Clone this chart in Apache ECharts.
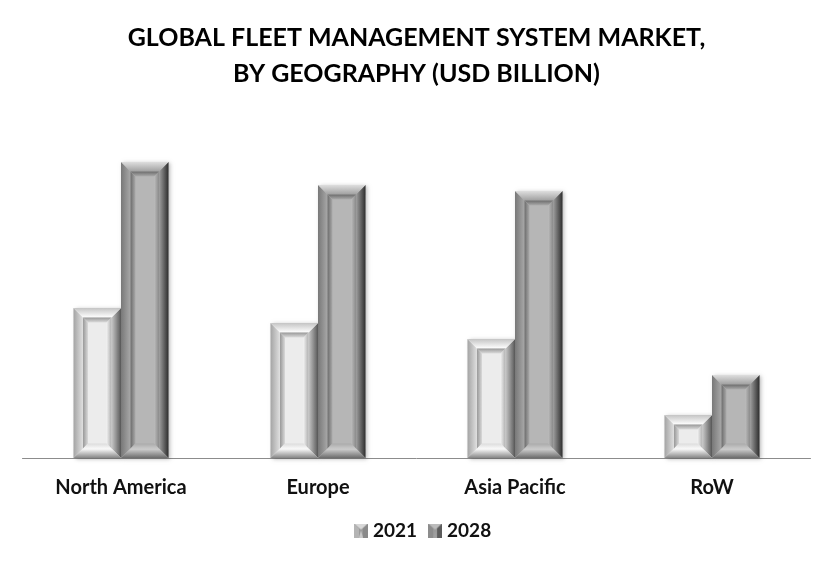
<!DOCTYPE html>
<html>
<head>
<meta charset="utf-8">
<script src="https://cdn.jsdelivr.net/npm/echarts@6/dist/echarts.min.js"></script>
<style>
html, body { margin: 0; padding: 0; background: #fff; }
#chart { width: 836px; height: 565px; }
</style>
</head>
<body>
<div id="chart"></div>
<script>
'use strict';

var categories = ['North America', 'Europe', 'Asia Pacific', 'RoW'];
var values2021 = [15.0, 13.5, 11.9, 4.3];
var values2028 = [29.6, 27.3, 26.7, 8.3];

var lightPanel = {
    outerTop: ['#c4c4c4', '#ffffff'], outerLeft: ['#a4a4a4', '#e0e0e0'], outerRight: ['#c8c8c8', '#5a5a5a'], outerBottom: ['#ffffff', '#858585'],
    innerTop: ['#989898', '#dcdcdc'], innerLeft: ['#989898', '#dadada'], innerRight: ['#f0f0f0', '#b0b0b0'], innerBottom: ['#dcdcdc', '#f8f8f8'],
    face: '#ececec'
};
var darkPanel = {
    outerTop: ['#dedede', '#a0a0a0'], outerLeft: ['#787878', '#a8a8a8'], outerRight: ['#a0a0a0', '#2e2e2e'], outerBottom: ['#d4d4d4', '#6c6c6c'],
    innerTop: ['#6c6c6c', '#acacac'], innerLeft: ['#6c6c6c', '#aaaaaa'], innerRight: ['#bdbdbd', '#8a8a8a'], innerBottom: ['#aaaaaa', '#c8c8c8'],
    face: '#b6b6b6'
};

// gradient across a band, dir: 0 = left to right, 1 = top to bottom
function grad(colors, dir) {
    return new echarts.graphic.LinearGradient(0, 0, dir ? 0 : 1, dir ? 1 : 0, [
        { offset: 0, color: colors[0] },
        { offset: 1, color: colors[1] }
    ]);
}

function ring(x0, y0, x1, y1, w, h, c, prefix) {
    var ix0 = x0 + w, ix1 = x1 - w, iy0 = y0 + h, iy1 = y1 - h;
    var band = function (pts, colors, dir) {
        return { type: 'polygon', shape: { points: pts }, style: { fill: grad(colors, dir) } };
    };
    return [
        band([[x0, y0], [ix0, iy0], [ix0, iy1], [x0, y1]], c[prefix + 'Left'], 0),
        band([[x1, y0], [ix1, iy0], [ix1, iy1], [x1, y1]], c[prefix + 'Right'], 0),
        band([[x0, y0], [x1, y0], [ix1, iy0], [ix0, iy0]], c[prefix + 'Top'], 1),
        band([[x0, y1], [x1, y1], [ix1, iy1], [ix0, iy1]], c[prefix + 'Bottom'], 1)
    ];
}

function bevelItem(offsetSide, palette) {
    return function (params, api) {
        var top = api.coord([api.value(0), api.value(1)]);
        var base = api.coord([api.value(0), 0]);
        var barW = api.size([1, 0])[0] * 0.241;
        var x0 = top[0] + (offsetSide < 0 ? -barW : 0);
        var x1 = x0 + barW;
        var y0 = top[1], y1 = base[1];
        var out = 9.5, inn = 5;
        var children = [{
            type: 'rect',
            shape: { x: x0, y: y0, width: barW, height: y1 - y0 },
            style: { fill: palette.face, shadowBlur: 4, shadowColor: 'rgba(0,0,0,0.28)', shadowOffsetX: 2, shadowOffsetY: 1 }
        }];
        children = children.concat(ring(x0, y0, x1, y1, out, out, palette, 'outer'));
        children = children.concat(ring(x0 + out, y0 + out, x1 - out, y1 - out, inn, inn, palette, 'inner'));
        return { type: 'group', children: children };
    };
}

// small bevelled square for the legend
function legendIcon(topColor, sideColor, darkColor, bottomColor) {
    var c = document.createElement('canvas');
    c.width = 14; c.height = 14;
    var g = c.getContext('2d');
    var poly = function (pts, fill) {
        g.fillStyle = fill;
        g.beginPath();
        pts.forEach(function (q, i) { if (i) g.lineTo(q[0], q[1]); else g.moveTo(q[0], q[1]); });
        g.closePath();
        g.fill();
    };
    g.fillStyle = '#9a9a9a';
    g.fillRect(0, 0, 14, 14);
    poly([[0, 0], [14, 0], [7, 6]], topColor);
    poly([[0, 0], [5, 5], [5, 14], [0, 14]], sideColor);
    poly([[14, 0], [9, 5], [9, 14], [14, 14]], darkColor);
    poly([[5, 14], [9, 14], [7, 7]], bottomColor);
    return 'image://' + c.toDataURL();
}

var chart = echarts.init(document.getElementById('chart'));

function rows(values) {
    return values.map(function (v, i) { return [i, v]; });
}

chart.setOption({
    animation: false,
    backgroundColor: '#fff',
    title: {
        text: 'GLOBAL FLEET MANAGEMENT SYSTEM MARKET,\nBY GEOGRAPHY (USD BILLION)',
        left: 411.5,
        top: 15,
        textAlign: 'center',
        textStyle: { fontFamily: 'Lato', fontWeight: 700, fontSize: 25, lineHeight: 36, color: '#000' }
    },
    grid: { left: 22.5, width: 788, top: 100, height: 358 },
    xAxis: {
        type: 'category',
        data: categories,
        axisTick: { show: false },
        axisLine: { lineStyle: { color: '#8c8c8c', width: 1 } },
        axisLabel: { fontFamily: 'Lato', fontWeight: 700, fontSize: 20, color: '#111', margin: 20 }
    },
    yAxis: { type: 'value', min: 0, max: 35.8, show: false },
    legend: {
        bottom: 20,
        left: 349,
        itemWidth: 14,
        itemHeight: 14,
        itemGap: 11,
        textStyle: { fontFamily: 'Lato', fontWeight: 700, fontSize: 19, color: '#111' },
        data: [
            { name: '2021', icon: legendIcon('#d8d8d8', '#b4b4b4', '#8a8a8a', '#c8c8c8') },
            { name: '2028', icon: legendIcon('#bcbcbc', '#8c8c8c', '#5c5c5c', '#a0a0a0') }
        ]
    },
    series: [
        { name: '2021', type: 'custom', data: rows(values2021), encode: { x: 0, y: 1 }, renderItem: bevelItem(-1, lightPanel), itemStyle: { color: '#d8d8d8' } },
        { name: '2028', type: 'custom', data: rows(values2028), encode: { x: 0, y: 1 }, renderItem: bevelItem(1, darkPanel), itemStyle: { color: '#8e8e8e' } }
    ]
});
</script>
</body>
</html>
